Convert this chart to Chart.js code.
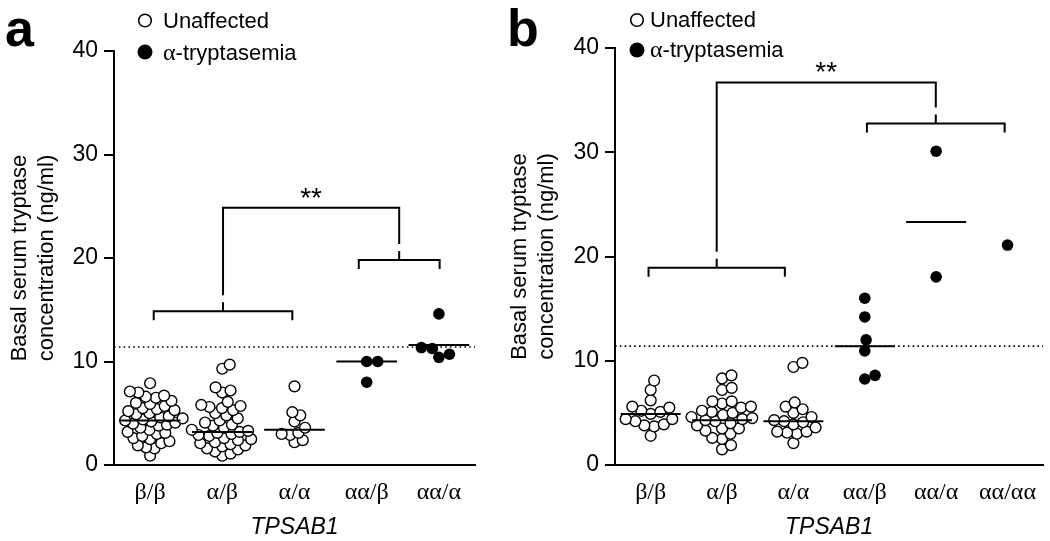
<!DOCTYPE html>
<html>
<head>
<meta charset="utf-8">
<title>Basal serum tryptase by TPSAB1 genotype</title>
<script src="https://cdn.jsdelivr.net/npm/chart.js@4.4.1/dist/chart.umd.min.js"></script>
<style>
  html, body { margin: 0; padding: 0; background: #fff; }
  #wrap { position: relative; width: 1050px; height: 541px; overflow: hidden; }
  canvas { position: absolute; top: 0; }
  #chartA { left: 0; }
  #chartB { left: 505px; }
</style>
</head>
<body>
<div id="wrap">
  <canvas id="chartA" width="505" height="541"></canvas>
  <canvas id="chartB" width="545" height="541"></canvas>
</div>
<script>
'use strict';
/* ----------------------------------------------------------------------------------------------------DATA */
const genotypesA = ['β/β', 'α/β', 'α/α', 'αα/β', 'αα/α'];
const genotypesB = ['β/β', 'α/β', 'α/α', 'αα/β', 'αα/α', 'αα/αα'];
const yTickValues = [0, 10, 20, 30, 40];
const thresholdValue = 11.4;

// panel a, basal tryptase (ng/ml) for each genotype
const aBetaBeta = [7.9, 7.1, 7.0, 6.7, 6.6, 6.5, 6.2, 6.0, 5.9, 5.7, 5.5, 5.4, 5.3, 5.2, 5.0, 4.9, 4.7, 4.6, 4.5, 4.4,
  4.3, 4.2, 4.1, 4.0, 3.9, 3.8, 3.6, 3.4, 3.2, 3.1, 3.0, 2.8, 2.6, 2.5, 2.3, 2.1, 1.9, 1.7, 1.6, 0.9];
const aAlphaBeta = [9.7, 9.3, 7.5, 7.2, 7.0, 6.1, 5.8, 5.7, 5.6, 5.5, 5.3, 5.0, 4.8, 4.5, 4.3, 4.1, 3.9, 3.8, 3.6, 3.4,
  3.3, 3.2, 3.1, 3.0, 2.9, 2.8, 2.6, 2.5, 2.4, 2.2, 2.1, 2.0, 1.9, 1.8, 1.6, 1.5, 1.3, 1.1, 0.9];
const aAlphaAlpha = [7.6, 5.1, 4.8, 4.2, 3.6, 3.1, 3.0, 2.9, 2.4, 2.2];
const aDupAlphaBeta = [10.0, 10.0, 8.0];
const aDupAlphaAlpha = [14.6, 11.35, 11.25, 10.7, 10.4];
const aMedians = [4.3, 3.2, 3.4, 10.0, 11.6];
const aAffected = [false, false, false, true, true];

// panel b
const bBetaBeta = [8.1, 7.2, 6.2, 5.6, 5.5, 5.2, 5.1, 4.9, 4.4, 4.4, 4.2, 3.9, 3.8, 3.7, 2.8];
const bAlphaBeta = [8.6, 8.3, 7.4, 7.2, 6.1, 6.1, 5.9, 5.6, 5.5, 5.2, 5.1, 5.0, 4.8, 4.6, 4.5, 4.4, 4.3, 4.2, 4.0, 3.8,
  3.5, 3.5, 3.3, 3.0, 2.6, 2.5, 1.9, 1.5];
const bAlphaAlpha = [9.8, 9.4, 6.0, 5.6, 5.35, 5.0, 4.6, 4.3, 4.2, 4.1, 3.9, 3.6, 3.2, 3.2, 3.1, 3.0, 2.1];
const bDupAlphaBeta = [16.0, 14.2, 12.0, 10.95, 8.6, 8.25];
const bDupAlphaAlpha = [30.1, 18.05];
const bDupAlphaDupAlpha = [21.1];
const bMedians = [4.9, 4.3, 4.2, 11.4, 23.3, null];
const bAffected = [false, false, false, true, true, true];

// significance brackets: [from genotype, to genotype, level ng/ml]
const aBrackets = [[0.05, 1.97, 14.85], [2.89, 4.01, 19.8]];
const aLinkTop = 24.85;
const bBrackets = [[-0.03, 1.88, 18.93], [3.03, 4.96, 32.75]];
const bLinkTop = 36.7;





/* ----------------------------------------------------------------------------------------------------LAYOUT */
const PX_PER_GENOTYPE = 72.2;
const PX_PER_UNIT = 10.4;
const MEDIAN_HALF = 0.42;
const SANS = '"Liberation Sans", Arial, sans-serif';
const SERIF = '"Liberation Serif", "Times New Roman", serif';





/* ----------------------------------------------------------------------------------------------------FUNCTIONS */
function beeswarm(values, index, gap){
  const order = values.map((v, i) => i).sort((p, q) => values[p] - values[q]);
  const placed = [];
  for (let i of order){
    const py = values[i] * PX_PER_UNIT;
    const candidates = [0];
    for (let p of placed){
      const dy = py - p.py;
      if (Math.abs(dy) < gap){
        const dx = Math.sqrt(gap * gap - dy * dy);
        candidates.push(p.px + dx, p.px - dx);
      }
    }
    candidates.sort((u, v) => Math.abs(u) - Math.abs(v));
    let best = 0;
    for (let c of candidates){
      const ok = placed.every(p => (p.px - c) ** 2 + (p.py - py) ** 2 >= gap * gap - 0.01);
      if (ok){ best = c; break; }
    }
    placed.push({px: best, py: py, i: i});
  }
  return placed.map(p => ({x: index + p.px / PX_PER_GENOTYPE, y: values[p.i]}));
}
//spreads the points of one genotype sideways so they do not sit on top of each other

function buildDatasets(groups, medians, affected, openGap){
  const openPts = [];
  const filledPts = [];
  groups.forEach((vals, i) => {
    if (affected[i]){
      filledPts.push(...beeswarm(vals, i, 11));
    } else {
      openPts.push(...beeswarm(vals, i, openGap));
    }
  });
  const sets = [];
  medians.forEach((m, i) => {
    if (m === null) return;
    sets.push({
      data: [{x: i - MEDIAN_HALF, y: m}, {x: i + MEDIAN_HALF, y: m}],
      showLine: true, borderColor: '#000', borderWidth: 2, pointRadius: 0, order: 0
    });
  });
  sets.push({label: 'Unaffected', data: openPts, pointRadius: 5.4, borderWidth: 1.4,
    backgroundColor: '#fff', borderColor: '#000', order: 1});
  sets.push({label: 'α-tryptasemia', data: filledPts, pointRadius: 5.8, borderWidth: 0,
    backgroundColor: '#000', borderColor: '#000', order: 1});
  sets.push({
    data: [{x: -0.5, y: thresholdValue}, {x: groups.length - 0.5, y: thresholdValue}],
    showLine: true, borderColor: '#000', borderWidth: 1.6, borderDash: [1.6, 3.2], pointRadius: 0, order: 2
  });
  return sets;
}

const panelDecor = {
  id: 'panelDecor',
  afterDraw(chart, args, opts){
    const ctx = chart.ctx;
    const xs = chart.scales.x;
    const ys = chart.scales.y;
    ctx.save();
    ctx.fillStyle = '#000';
    ctx.strokeStyle = '#000';
    ctx.textBaseline = 'alphabetic';
    ctx.textAlign = 'left';

    ctx.font = 'bold 52px ' + SANS;
    ctx.fillText(opts.letter, opts.letterX, 46);

    // legend
    const lg = opts.legend;
    ctx.lineWidth = 1.6;
    ctx.beginPath();
    ctx.arc(lg.cx, lg.cy[0], 6.3, 0, Math.PI * 2);
    ctx.stroke();
    ctx.beginPath();
    ctx.arc(lg.cx, lg.cy[1], 7.5, 0, Math.PI * 2);
    ctx.fill();
    ctx.font = '22px ' + SANS;
    ctx.fillText('Unaffected', lg.tx, lg.base[0]);
    ctx.font = '24px ' + SERIF;
    ctx.fillText('α', lg.tx, lg.base[1]);
    const aw = ctx.measureText('α').width;
    ctx.font = '22px ' + SANS;
    ctx.fillText('-tryptasemia', lg.tx + aw, lg.base[1]);

    // brackets
    ctx.lineWidth = 2;
    const mids = opts.brackets.map(b => {
      const x0 = xs.getPixelForValue(b[0]);
      const x1 = xs.getPixelForValue(b[1]);
      const yy = ys.getPixelForValue(b[2]);
      const xm = (x0 + x1) / 2;
      ctx.beginPath();
      ctx.moveTo(x0, yy + 9);
      ctx.lineTo(x0, yy);
      ctx.lineTo(x1, yy);
      ctx.lineTo(x1, yy + 9);
      ctx.moveTo(xm, yy);
      ctx.lineTo(xm, yy - 9);
      ctx.stroke();
      return {xm: xm, y: yy - 16};
    });
    const top = ys.getPixelForValue(opts.linkTop);
    ctx.beginPath();
    ctx.moveTo(mids[0].xm, mids[0].y);
    ctx.lineTo(mids[0].xm, top);
    ctx.lineTo(mids[1].xm, top);
    ctx.lineTo(mids[1].xm, mids[1].y);
    ctx.stroke();
    ctx.font = '28px ' + SANS;
    ctx.textAlign = 'center';
    ctx.fillText('**', (mids[0].xm + mids[1].xm) / 2, top - 1);
    ctx.restore();
  }
};
//draws the panel letter, the legend and the significance brackets

function makePanel(canvasId, genotypes, groups, medians, affected, cfg){
  return new Chart(document.getElementById(canvasId), {
    type: 'scatter',
    data: {datasets: buildDatasets(groups, medians, affected, cfg.openGap)},
    plugins: [panelDecor],
    options: {
      responsive: false,
      animation: false,
      events: [],
      layout: {padding: {top: cfg.top, right: cfg.right, bottom: 0, left: 0}},
      plugins: {
        legend: {display: false},
        tooltip: {enabled: false},
        panelDecor: cfg.decor
      },
      scales: {
        x: {
          type: 'linear',
          min: -0.5,
          max: genotypes.length - 0.5,
          afterBuildTicks: scale => { scale.ticks = genotypes.map((g, i) => ({value: i})); },
          afterFit: scale => { scale.height = 76; },
          grid: {display: false, drawTicks: false},
          border: {display: true, color: '#000', width: 2},
          ticks: {
            color: '#000', padding: 13, maxRotation: 0, autoSkip: false,
            font: {family: SERIF, size: 24},
            callback: v => genotypes[v]
          },
          title: {display: true, text: 'TPSAB1', color: '#000', padding: {top: 0, bottom: 0},
            font: {family: SANS, size: 23, style: 'italic'}}
        },
        y: {
          min: 0,
          max: 40,
          afterBuildTicks: scale => { scale.ticks = yTickValues.map(v => ({value: v})); },
          afterFit: scale => { scale.width = cfg.axisWidth; },
          grid: {drawOnChartArea: false, drawTicks: true, tickLength: 10, color: '#000', lineWidth: 2},
          border: {display: true, color: '#000', width: 2},
          ticks: {color: '#000', padding: 6, font: {family: SANS, size: 23}},
          title: {display: true, text: ['Basal serum tryptase', 'concentration (ng/ml)'], color: '#000',
            padding: {top: cfg.titlePad, bottom: 0}, font: {family: SANS, size: 22, lineHeight: 1.2}}
        }
      }
    }
  });
}





/* ----------------------------------------------------------------------------------------------------CALL FUNCTIONS */
makePanel('chartA', genotypesA,
  [aBetaBeta, aAlphaBeta, aAlphaAlpha, aDupAlphaBeta, aDupAlphaAlpha], aMedians, aAffected, {
    top: 51, right: 30, axisWidth: 114, titlePad: 7, openGap: 8.5,
    decor: {letter: 'a', letterX: 5, brackets: aBrackets, linkTop: aLinkTop,
      legend: {cx: 145, cy: [20.5, 52], tx: 163, base: [28, 60]}}
  });

makePanel('chartB', genotypesB,
  [bBetaBeta, bAlphaBeta, bAlphaAlpha, bDupAlphaBeta, bDupAlphaAlpha, bDupAlphaDupAlpha], bMedians, bAffected, {
    top: 48, right: 2, axisWidth: 110, titlePad: 2, openGap: 10,
    decor: {letter: 'b', letterX: 2, brackets: bBrackets, linkTop: bLinkTop,
      legend: {cx: 132, cy: [20, 50], tx: 145, base: [27, 57]}}
  });
</script>
</body>
</html>
